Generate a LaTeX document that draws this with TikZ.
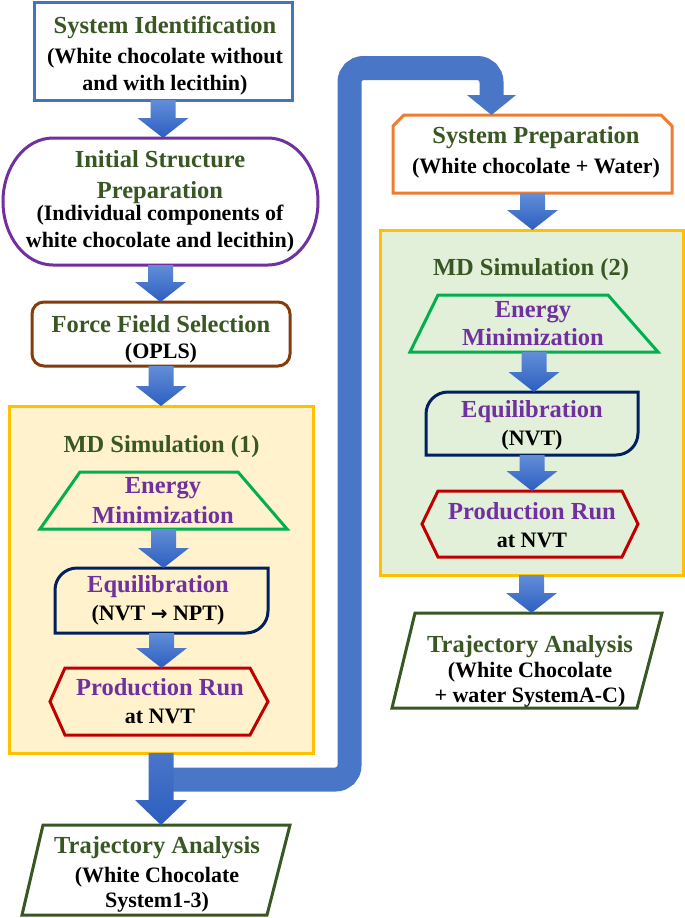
\documentclass[tikz,border=0pt]{standalone}
\usepackage{fontspec}
\setmainfont{Liberation Serif}
\newfontfamily\arrfont{DejaVu Sans}
\usetikzlibrary{calc,arrows.meta}
\definecolor{cBlue}{HTML}{4472C4}
\definecolor{cPurple}{HTML}{7030A0}
\definecolor{cBrown}{HTML}{843C0C}
\definecolor{cGold}{HTML}{FFC000}
\definecolor{cFillA}{HTML}{FFF2CC}
\definecolor{cFillB}{HTML}{E2F0D9}
\definecolor{cGreen}{HTML}{00B050}
\definecolor{cNavy}{HTML}{002060}
\definecolor{cRed}{HTML}{C00000}
\definecolor{cDkGreen}{HTML}{385723}
\definecolor{cOrange}{HTML}{ED7D31}
\definecolor{arrtop}{RGB}{98,142,216}
\definecolor{arrbot}{RGB}{44,94,192}
\definecolor{conn}{RGB}{74,118,200}
\newcommand\txtlines[1]{\vtop{\halign{\hfil##\hfil\cr#1\crcr}}}
\newcommand\tgr[1]{{\fontsize{24.5}{27}\selectfont\color{cDkGreen}#1}}
\newcommand\tpu[1]{{\fontsize{24.5}{27}\selectfont\color{cPurple}#1}}
\newcommand\vgap[1]{\noalign{\vskip#1pt}}
\newcommand\rarr{{\arrfont\bfseries\fontsize{20}{27}\selectfont →}}
\newcommand\barrow[2]{\shade[top color=arrtop,bottom color=arrbot] let \p1=(#1),\p2=(#2) in
  (\x1-12.5pt,\y1) -- (\x1+12.5pt,\y1) -- (\x1+12.5pt,\y2+20pt) -- (\x1+25.5pt,\y2+20pt)
  -- (\x1,\y2) -- (\x1-25.5pt,\y2+20pt) -- (\x1-12.5pt,\y2+20pt) -- cycle;}
\newcommand\bigarrow[2]{\shade[top color=conn,bottom color=arrbot] let \p1=(#1),\p2=(#2) in
  (\x1-12.5pt,\y1) -- (\x1+12.5pt,\y1) -- (\x1+12.5pt,\y2+25pt) -- (\x1+26pt,\y2+25pt)
  -- (\x1,\y2) -- (\x1-26pt,\y2+25pt) -- (\x1-12.5pt,\y2+25pt) -- cycle;}
\tikzset{
  sh/.style={inner sep=0pt, outer sep=0pt, draw=none},
  txt/.style={anchor=base, inner sep=0pt, font=\fontsize{22}{27}\selectfont\bfseries, text=black},
  outl/.style={line width=3pt, line join=miter},
  bigconn/.style={draw=conn, line width=24pt, rounded corners=14pt, -{Triangle[length=20pt,width=48pt]}}
}
\begin{document}
\begin{tikzpicture}[x=1pt,y=-1pt]
\useasboundingbox (0,0) rectangle (685,918);
\fill[white] (0,0) rectangle (685,918);

% ---------- shape nodes (anchors for connectors)
\node[sh, minimum width=258, minimum height=98]  (sysid) at (163,51) {};
\node[sh, minimum width=315, minimum height=127] (isp)   at (160.5,201.5) {};
\node[sh, minimum width=258, minimum height=64]  (ffs)   at (161,334) {};
\node[sh, minimum width=304, minimum height=347] (md1)   at (161,579.5) {};
\node[sh, minimum width=247, minimum height=57]  (em1)   at (163.5,500.5) {};
\node[sh, minimum width=213, minimum height=65]  (eq1)   at (161.5,600.5) {};
\node[sh, minimum width=218, minimum height=67]  (pr1)   at (159,701.5) {};
\node[sh, minimum width=268, minimum height=90]  (ta1)   at (156,870) {};
\node[sh, minimum width=279, minimum height=78]  (sp)    at (532.5,154) {};
\node[sh, minimum width=303, minimum height=345] (md2)   at (531.5,402.5) {};
\node[sh, minimum width=248, minimum height=57]  (em2)   at (534,323.5) {};
\node[sh, minimum width=212, minimum height=63]  (eq2)   at (532,423.5) {};
\node[sh, minimum width=216, minimum height=66]  (pr2)   at (530,524) {};
\node[sh, minimum width=270, minimum height=95]  (ta2)   at (527,660.5) {};

% ---------- outlines
\draw[outl, cBlue] (34,2) rectangle (292,100);
\draw[outl, cPurple] (53,138) -- (268,138) .. controls (295.6,138) and (318,166.4) .. (318,201.5)
  .. controls (318,236.6) and (295.6,265) .. (268,265) -- (53,265)
  .. controls (25.4,265) and (3,236.6) .. (3,201.5) .. controls (3,166.4) and (25.4,138) .. (53,138) -- cycle;
\draw[outl, cBrown, rounded corners=12pt] (32,302) rectangle (290,366);
\filldraw[outl, draw=cGold, fill=cFillA] (9,406) rectangle (313,753);
\draw[outl, cGreen] (80,472) -- (238,472) -- (287,529) -- (40,529) -- cycle;
\draw[outl, cNavy] (55,633) -- (55,590) .. controls (55,577.85) and (64.85,568) .. (77,568) -- (268,568)
  -- (268,611) .. controls (268,623.15) and (258.15,633) .. (246,633) -- cycle;
\draw[outl, cRed] (50,701.5) -- (65,668) -- (250,668) -- (268,701.5) -- (250,735) -- (65,735) -- cycle;
\draw[outl, cDkGreen] (43,825) -- (290,825) -- (267,915) -- (22,915) -- cycle;
\draw[outl, cOrange] (393,193) -- (393,126) -- (404,115) -- (661,115) -- (672,126) -- (672,193) -- cycle;
\filldraw[outl, draw=cGold, fill=cFillB] (380,230) rectangle (683,575);
\draw[outl, cGreen] (438,295) -- (608,295) -- (658,352) -- (410,352) -- cycle;
\draw[outl, cNavy] (426,455) -- (426,414) .. controls (426,401.85) and (435.85,392) .. (448,392) -- (638,392)
  -- (638,433) .. controls (638,445.15) and (628.15,455) .. (616,455) -- cycle;
\draw[outl, cRed] (422,524) -- (438,491) -- (622,491) -- (638,524) -- (622,557) -- (438,557) -- cycle;
\draw[outl, cDkGreen] (415,613) -- (662,613) -- (637,708) -- (392,708) -- cycle;

% ---------- texts
\node[txt] (sysid-t) at (165,33) {\txtlines{\tgr{System Identification}\cr\vgap{3}(White chocolate without\cr and with lecithin)}};
\node[txt] (isp-t) at (160,167) {\txtlines{\tgr{Initial Structure}\cr\vgap{4}\tgr{Preparation}\cr\vgap{-5}(Individual components of\cr white chocolate and lecithin)}};
\node[txt] (ffs-t) at (161,332) {\txtlines{\tgr{Force Field Selection}\cr\vgap{-1}(OPLS)}};
\node[txt] (md1-t) at (161.5,452) {\tgr{MD Simulation (1)}};
\node[txt] (em1-t) at (163,493) {\txtlines{\tpu{Energy}\cr\vgap{3}\tpu{Minimization}}};
\node[txt] (eq1-t) at (158,592) {\txtlines{\tpu{Equilibration}\cr\vgap{1}(NVT \rarr{} NPT)}};
\node[txt] (pr1-t) at (160,695) {\txtlines{\tpu{Production Run}\cr\vgap{1}at NVT}};
\node[txt] (ta1-t) at (157,853) {\txtlines{\tgr{Trajectory Analysis}\cr\vgap{2}(White Chocolate\cr\vgap{-2}System1-3)}};
\node[txt] (sp-t) at (536,143) {\txtlines{\tgr{System Preparation}\cr\vgap{3}(White chocolate + Water)}};
\node[txt] (md2-t) at (531,275) {\tgr{MD Simulation (2)}};
\node[txt] (em2-t) at (533,317) {\txtlines{\tpu{Energy}\cr\vgap{1}\tpu{Minimization}}};
\node[txt] (eq2-t) at (532,417) {\txtlines{\tpu{Equilibration}\cr\vgap{1}(NVT)}};
\node[txt] (pr2-t) at (532,519) {\txtlines{\tpu{Production Run}\cr\vgap{1}at NVT}};
\node[txt] (ta2-t) at (530,652) {\txtlines{\tgr{Trajectory Analysis}\cr\vgap{-2}(White Chocolate\cr\vgap{-2}+ water SystemA-C)}};

% ---------- connectors
\barrow{sysid.south}{isp.north}
\barrow{isp.south}{ffs.north}
\barrow{ffs.south}{md1.north}
\barrow{em1.south}{eq1.north}
\barrow{eq1.south}{pr1.north}
\barrow{sp.south}{md2.north}
\barrow{em2.south}{eq2.north}
\barrow{eq2.south}{pr2.north}
\barrow{md2.south}{ta2.north}

\coordinate (split) at (161,779.5);
\coordinate (b1) at (349.5,779.5);
\coordinate (b2) at (349.5,68);
\coordinate (spin) at ($(sp.north west)+(98.5,0)$);
\draw[bigconn] (split) -- (b1) -- (b2) -- (b2 -| spin) -- (spin);
\bigarrow{md1.south}{ta1.north}
\end{tikzpicture}
\end{document}
